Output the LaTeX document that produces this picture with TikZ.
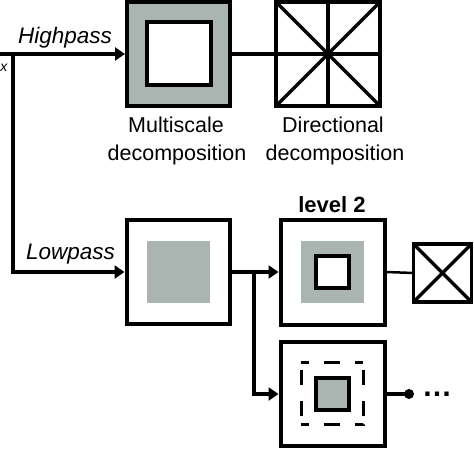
\documentclass[tikz,border=0pt]{standalone}
\usepackage{fontspec}
\setmainfont{Liberation Sans}
\usetikzlibrary{arrows.meta}
\definecolor{boxgray}{RGB}{170,180,177}
\begin{document}
\begin{tikzpicture}[x=1pt,y=-1pt,
  bigbox/.style={draw=black, line width=4pt, minimum width=104pt, minimum height=104pt, inner sep=0pt},
  graysq/.style={fill=boxgray, minimum width=63pt, minimum height=62pt, inner sep=0pt},
  whitesq/.style={draw=black, fill=white, line width=4pt, inner sep=0pt},
  flow/.style={line width=4.5pt, -{Triangle[length=10pt,width=13pt]}},
  wire/.style={line width=4.5pt},
  thinwire/.style={line width=2.5pt},
  inner/.style={line width=3.2pt},
  lbl/.style={font=\fontsize{21.5}{26}\selectfont, anchor=base, inner sep=0pt},
  passlbl/.style={font=\fontsize{22.5}{26}\selectfont\itshape, anchor=base west, inner sep=0pt}]
\useasboundingbox (0,0) rectangle (474,448);

% top row
\node[bigbox, fill=boxgray, minimum width=103pt] (ms) at (178.5,54) {};
\node[whitesq, minimum width=64pt, minimum height=63pt] (msin) at (179,53) {};
\node[bigbox, outer sep=0pt, line width=3.5pt] (dir) at (328,54) {};
\draw[inner] (dir.north west) -- (dir.south east);
\draw[inner] (dir.south west) -- (dir.north east);
\draw[inner] (dir.north) -- (dir.south);
\draw[inner] (dir.west) -- (dir.east);
\draw[wire] (ms.east) -- (dir.west);

\node[lbl] (ms1) at (176,132) {Multiscale};
\node[lbl] (ms2) at (177,160) {decomposition};
\node[lbl] (dir1) at (333,132) {Directional};
\node[lbl] (dir2) at (335,160) {decomposition};

% bottom row boxes
\node[bigbox, minimum width=103pt] (lp) at (178,272) {};
\node[graysq] (lpin) at (178.5,272) {};

\node[bigbox, minimum height=105pt] (lv2) at (332.5,272) {};
\node[graysq] (lv2g) at (332.5,272) {};
\node[whitesq, minimum width=33pt, minimum height=32pt] (lv2in) at (332.5,272) {};
\node[font=\fontsize{22}{26}\selectfont\bfseries, anchor=base, inner sep=0pt] (lvl) at (332,212) {level 2};

\node[draw=black, line width=3.5pt, minimum width=58pt, minimum height=58pt, inner sep=0pt, outer sep=0pt] (sx) at (442.5,273) {};
\draw[inner] (sx.north west) -- (sx.south east);
\draw[inner] (sx.south west) -- (sx.north east);

\node[bigbox] (bot) at (332.5,394) {};
\draw[line width=3pt, dash pattern=on 8pt off 15pt on 16pt off 15pt on 8pt]
  (301,362) -- (363,362) -- (363,424) -- (301,424) -- cycle;
\node[draw=black, fill=boxgray, line width=4pt, minimum width=33pt, minimum height=32pt, inner sep=0pt] (botin) at (332.5,394) {};

% input and connectors
\coordinate (in) at (0,54);
\coordinate (j1) at (13,54);
\node[font=\fontsize{14}{14}\selectfont\itshape, inner sep=0pt] (xl) at (4,68) {x};
\draw[flow] (in) -- (ms.west);
\draw[flow] (j1) |- (lp.west);
\node[passlbl] (hp) at (18,43) {Highpass};
\node[passlbl] (lpl) at (26,259) {Lowpass};

\draw[thinwire] (lv2.east) -- (sx.west);
\draw[flow] (lp.east) -- (lv2.west);
\coordinate (br) at (254,272);
\draw[flow] (br) |- (bot.west);

\coordinate (dot) at (409,394);
\draw[wire] (bot.east) -- (dot);
\fill (dot) circle (5pt);
\node[font=\fontsize{30}{30}\selectfont\bfseries, anchor=base, inner sep=0pt] (dots) at (437,396) {…};
\end{tikzpicture}
\end{document}
